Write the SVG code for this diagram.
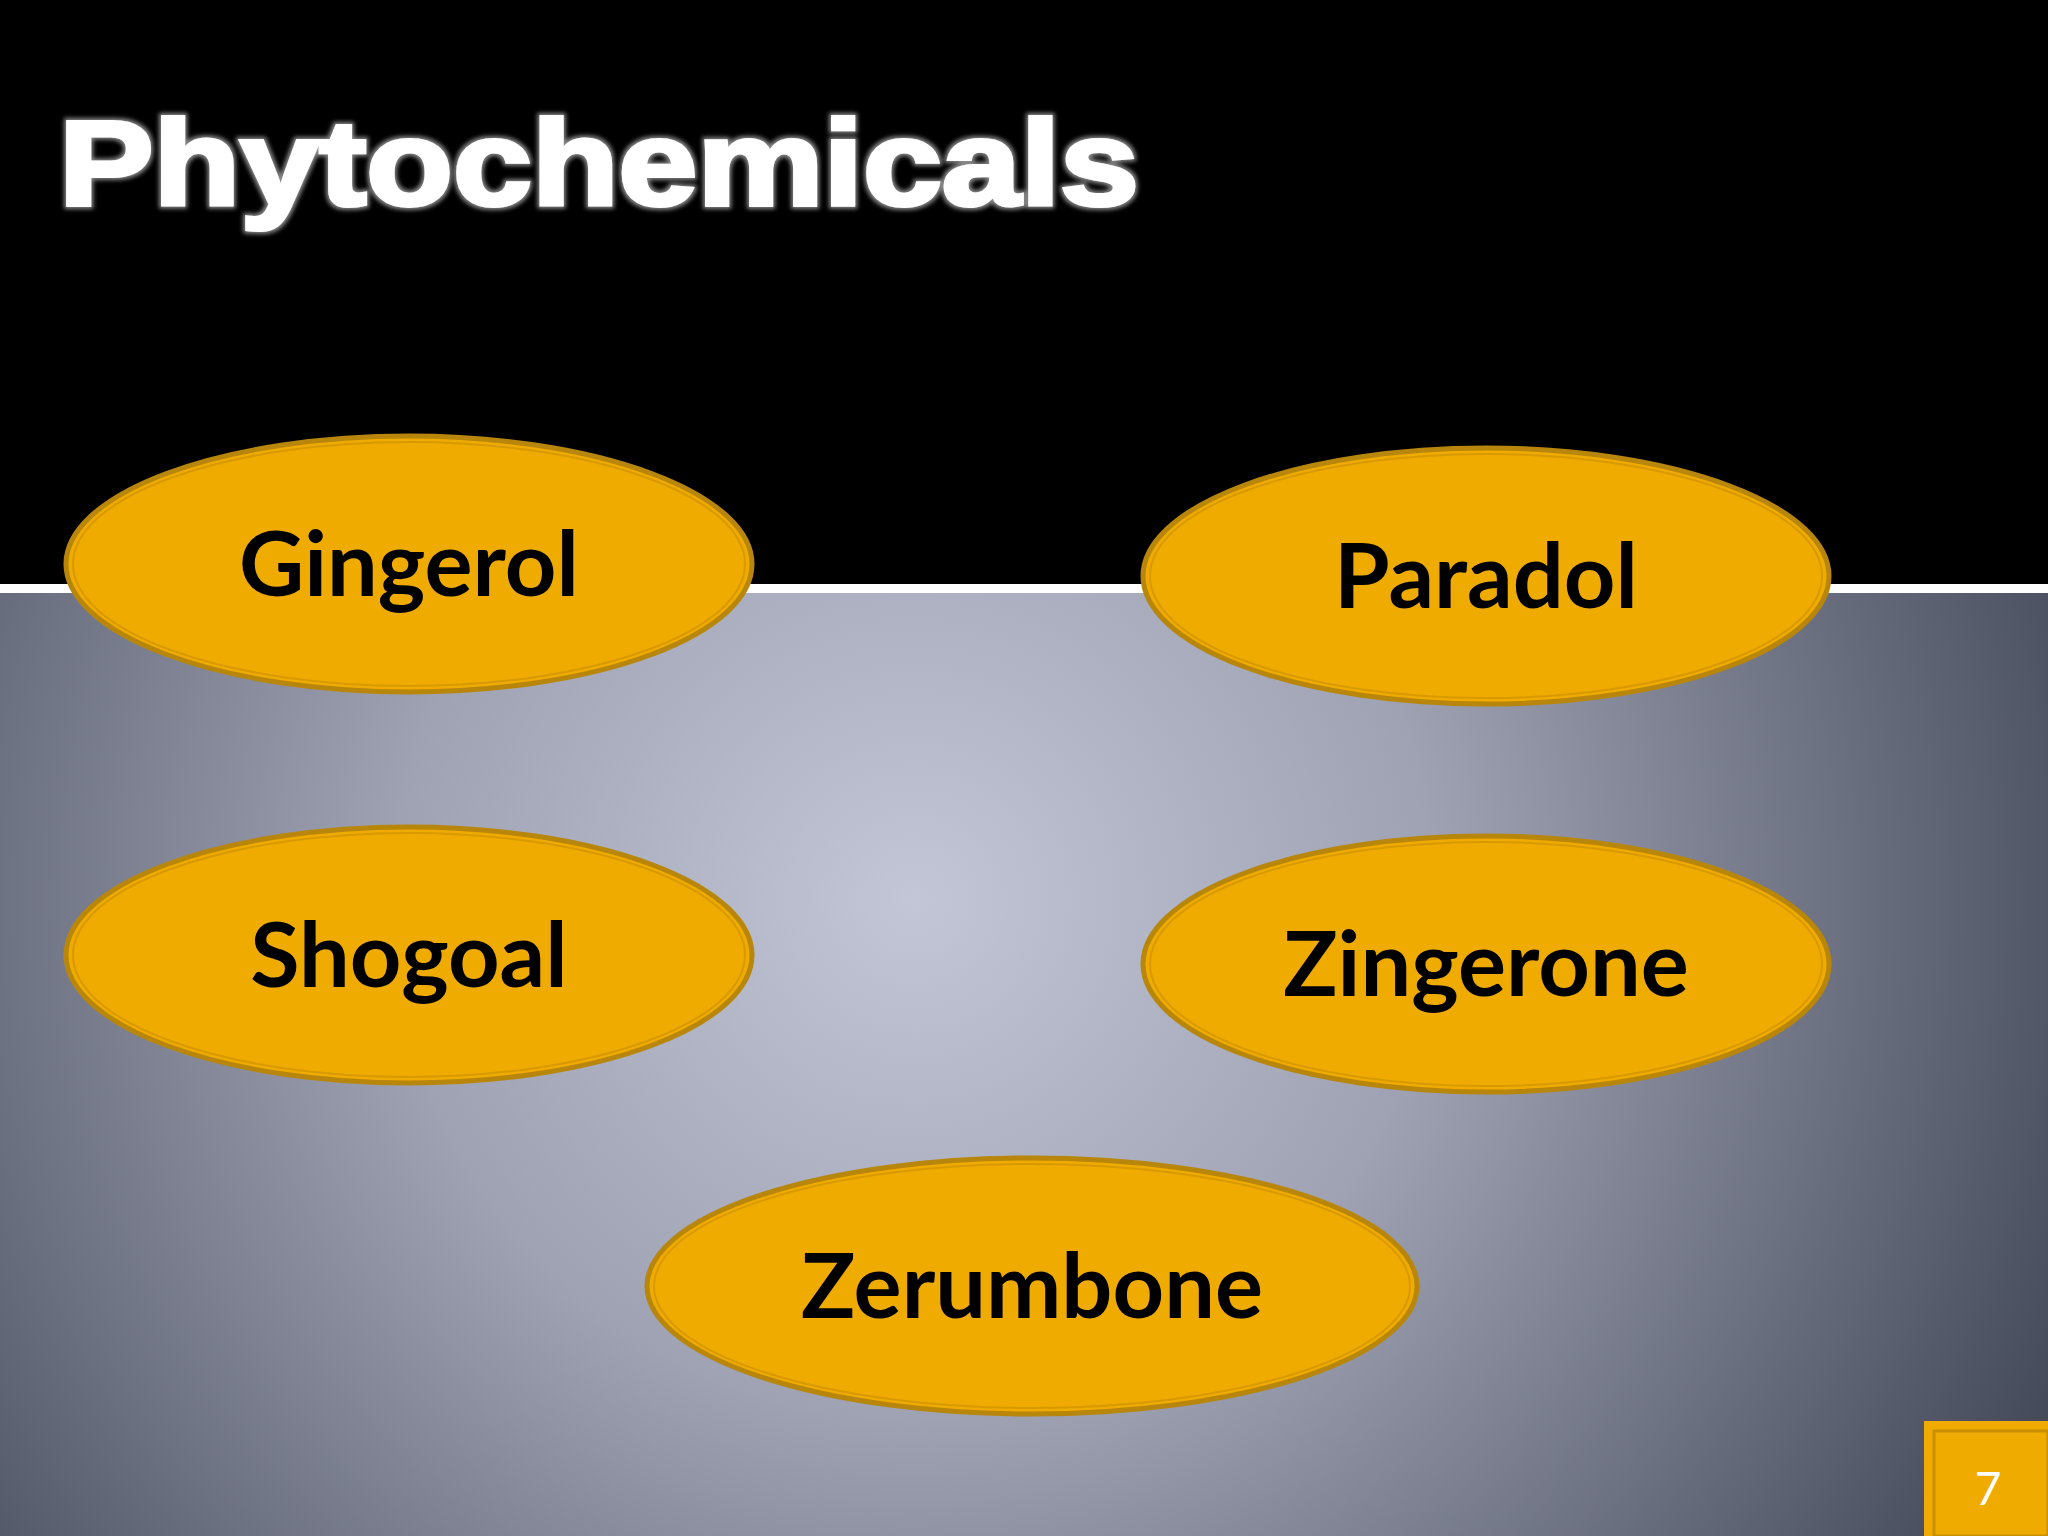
<svg xmlns="http://www.w3.org/2000/svg" width="2048" height="1536" viewBox="0 0 2048 1536">
<defs>
<radialGradient id="bg" cx="914" cy="900" r="1300" gradientUnits="userSpaceOnUse">
<stop offset="0" stop-color="#c3c6d6"/>
<stop offset="0.4" stop-color="#9ea2b2"/>
<stop offset="1" stop-color="#3e4354"/>
</radialGradient>
<filter id="glow" x="-5%" y="-20%" width="110%" height="140%">
<feGaussianBlur in="SourceAlpha" stdDeviation="3"/>
<feFlood flood-color="#888"/><feComposite operator="in" in2="SourceAlpha"/>
<feMorphology operator="dilate" radius="2"/>
<feGaussianBlur stdDeviation="2" result="g"/>
<feMerge><feMergeNode in="g"/><feMergeNode in="SourceGraphic"/></feMerge>
</filter>
</defs>
<style>
.node ellipse.o{fill:#f0ab00;stroke:#b8860b;stroke-width:5}
.node ellipse.i{fill:none;stroke:#d89a00;stroke-width:2}
.node text{font-family:Lato,"Open Sans",sans-serif;font-weight:bold;font-size:90px;fill:#000;text-anchor:middle}
</style>
<rect width="2048" height="1536" fill="url(#bg)"/>
<rect width="2048" height="584" fill="#000"/>
<rect y="584" width="2048" height="9" fill="#fff"/>
<text x="59" y="205" font-family="'Liberation Sans',Arial,sans-serif" font-weight="900" font-size="120" fill="#fff" stroke="#fff" stroke-width="4" textLength="1080" lengthAdjust="spacingAndGlyphs" filter="url(#glow)">Phytochemicals</text>
<g id="connectors"/>
<g id="gingerol" class="node"><ellipse class="o" cx="409" cy="564" rx="343" ry="128"/><ellipse class="i" cx="409" cy="564" rx="336" ry="122"/><text x="409" y="596">Gingerol</text></g>
<g id="paradol" class="node"><ellipse class="o" cx="1486" cy="576" rx="343" ry="128"/><ellipse class="i" cx="1486" cy="576" rx="336" ry="122"/><text x="1486" y="608">Paradol</text></g>
<g id="shogoal" class="node"><ellipse class="o" cx="409" cy="955" rx="343" ry="128"/><ellipse class="i" cx="409" cy="955" rx="336" ry="122"/><text x="409" y="987">Shogoal</text></g>
<g id="zingerone" class="node"><ellipse class="o" cx="1486" cy="964" rx="343" ry="128"/><ellipse class="i" cx="1486" cy="964" rx="336" ry="122"/><text x="1486" y="996">Zingerone</text></g>
<g id="zerumbone" class="node"><ellipse class="o" cx="1032" cy="1286" rx="385" ry="128"/><ellipse class="i" cx="1032" cy="1286" rx="378" ry="122"/><text x="1032" y="1318">Zerumbone</text></g>
<g id="pagenum"><rect x="1924" y="1421" width="124" height="115" fill="#f0ab00"/><rect x="1934" y="1431" width="114" height="105" fill="none" stroke="#c88f00" stroke-width="3"/><text x="1988" y="1505" font-family="Lato,'Open Sans',sans-serif" font-size="46" fill="#fff" text-anchor="middle">7</text></g>
</svg>
